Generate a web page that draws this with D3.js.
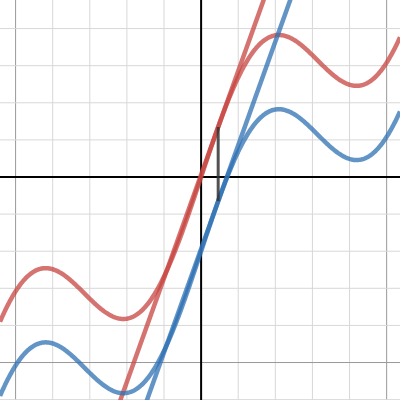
<!DOCTYPE html>
<html><head><meta charset="utf-8">
<script src="https://cdn.jsdelivr.net/npm/d3@7"></script>
<style>body{margin:0;background:#fff}</style></head>
<body><svg id="chart" width="400" height="400"></svg>
<script>
// curve parameters
var amp = 2;          // y = x + amp*sin(x) + shift
var shifts = [0, -2]; // red, blue
var colors = ["#c74440", "#2d70b3"];
var tangentAt = 0.46;
var xDomain = [-5.42, 5.36];
var yDomain = [-6.01, 4.77];

var svg = d3.select("#chart");
var x = d3.scaleLinear().domain(xDomain).range([0, 400]);
var y = d3.scaleLinear().domain(yDomain).range([400, 0]);

// grid
var gx = d3.range(-5, 6), gy = d3.range(-6, 5);
svg.selectAll(".vx").data(gx).enter().append("line")
  .attr("x1", d => x(d)).attr("x2", d => x(d)).attr("y1", 0).attr("y2", 400)
  .attr("stroke", d => d % 5 === 0 && d !== 0 ? "#999" : "#d8d8d8").attr("stroke-width", 1);
svg.selectAll(".hy").data(gy).enter().append("line")
  .attr("y1", d => y(d)).attr("y2", d => y(d)).attr("x1", 0).attr("x2", 400)
  .attr("stroke", d => d % 5 === 0 && d !== 0 ? "#999" : "#d8d8d8").attr("stroke-width", 1);
// axes
svg.append("line").attr("x1", x(0)).attr("x2", x(0)).attr("y1", 0).attr("y2", 400).attr("stroke", "#000").attr("stroke-width", 2);
svg.append("line").attr("y1", y(0)).attr("y2", y(0)).attr("x1", 0).attr("x2", 400).attr("stroke", "#000").attr("stroke-width", 2);

var f = (t, s) => t + amp * Math.sin(t) + s;
var slope = 1 + amp * Math.cos(tangentAt);
var line = d3.line().x(d => x(d[0])).y(d => y(d[1]));
var xs = d3.range(xDomain[0], xDomain[1] + 0.01, 0.02);

shifts.forEach((s, i) => {
  svg.append("path").attr("d", line(xs.map(t => [t, f(t, s)])))
    .attr("fill", "none").attr("stroke", colors[i]).attr("stroke-width", 4.5).attr("stroke-opacity", 0.75);
  var y0 = f(tangentAt, s);
  svg.append("path").attr("d", line([[-4, y0 + slope * (-4 - tangentAt)], [4, y0 + slope * (4 - tangentAt)]]))
    .attr("fill", "none").attr("stroke", colors[i]).attr("stroke-width", 4.5).attr("stroke-opacity", 0.75);
});

// vertical segment between the curves
svg.append("line").attr("x1", x(tangentAt)).attr("x2", x(tangentAt))
  .attr("y1", y(f(tangentAt, shifts[0]))).attr("y2", y(f(tangentAt, shifts[1])))
  .attr("stroke", "#333").attr("stroke-width", 3).attr("stroke-opacity", 0.85);
</script></body></html>
